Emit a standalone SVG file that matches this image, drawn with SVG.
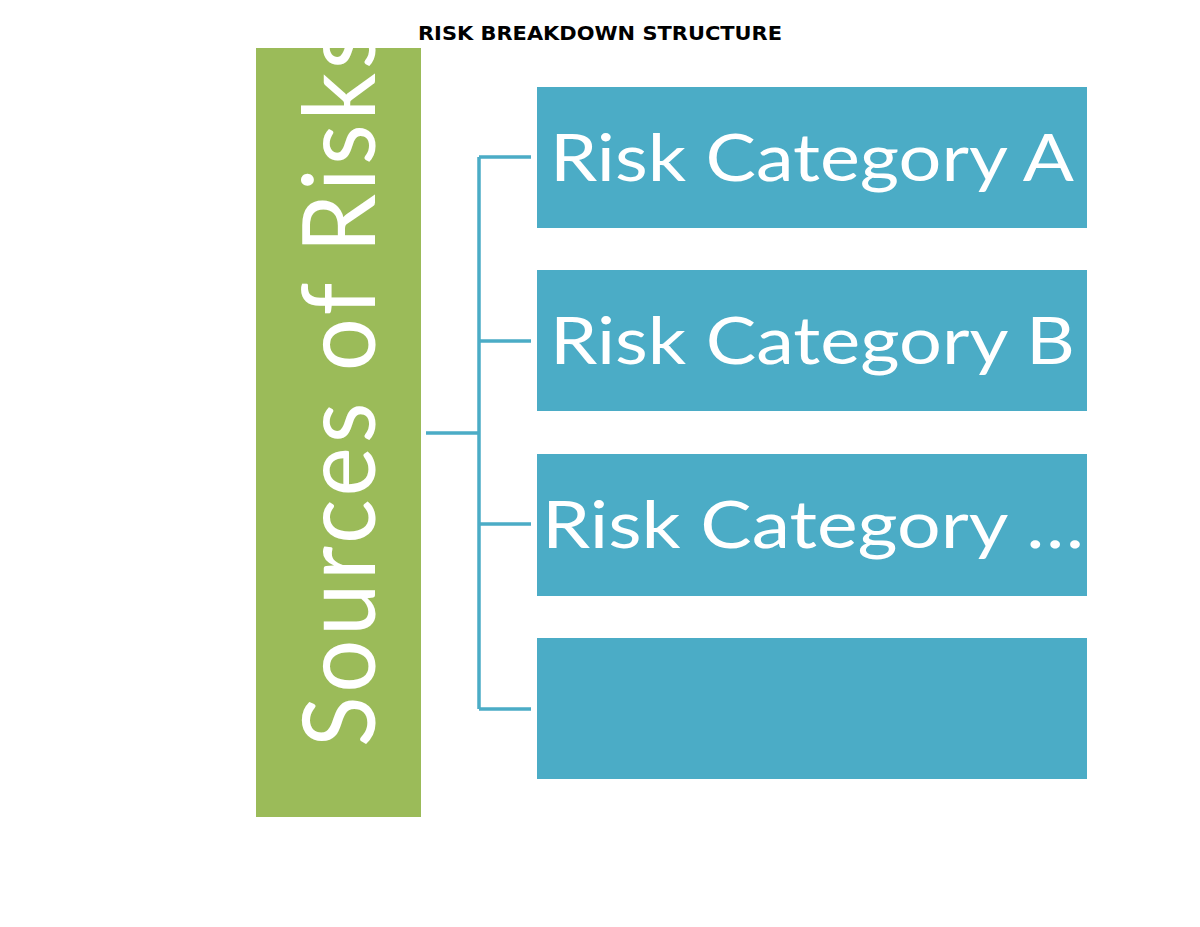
<svg xmlns="http://www.w3.org/2000/svg" width="1200" height="927" viewBox="0 0 1200 927">
<style>
.title{font-family:"DejaVu Sans",Verdana,sans-serif;font-weight:bold;font-size:20px;fill:#000}
.src{fill:#9BBB59}
.cat{fill:#4BACC6}
.big{font-family:Lato,"Noto Sans",sans-serif;fill:#fff}
.conn{fill:none;stroke:#4BACC6;stroke-width:3.5}
</style>
<rect width="1200" height="927" fill="#fff"/>
<text class="title" x="600" y="40" text-anchor="middle" textLength="364" lengthAdjust="spacingAndGlyphs">RISK BREAKDOWN STRUCTURE</text>
<g id="connectors">
<path class="conn" d="M426,433H479M479,157V709M479,157H531M479,341H531M479,524H531M479,709H531"/>
</g>
<g id="sources">
<rect class="src" x="256" y="48" width="165" height="769"/>
<text class="big" font-size="101" letter-spacing="4" textLength="722" lengthAdjust="spacingAndGlyphs" transform="translate(375,747) rotate(-90)">Sources of Risks</text>
</g>
<g id="catA">
<rect class="cat" x="537" y="87" width="550" height="141"/>
<text class="big" font-size="66" x="550" y="181" textLength="524" lengthAdjust="spacingAndGlyphs">Risk Category A</text>
</g>
<g id="catB">
<rect class="cat" x="537" y="270" width="550" height="141"/>
<text class="big" font-size="66" x="550" y="364" textLength="525" lengthAdjust="spacingAndGlyphs">Risk Category B</text>
</g>
<g id="catC">
<rect class="cat" x="537" y="454" width="550" height="142"/>
<text class="big" font-size="66" x="542" y="548" textLength="542" lengthAdjust="spacingAndGlyphs">Risk Category …</text>
</g>
<g id="catD">
<rect class="cat" x="537" y="638" width="550" height="141"/>
</g>
</svg>
